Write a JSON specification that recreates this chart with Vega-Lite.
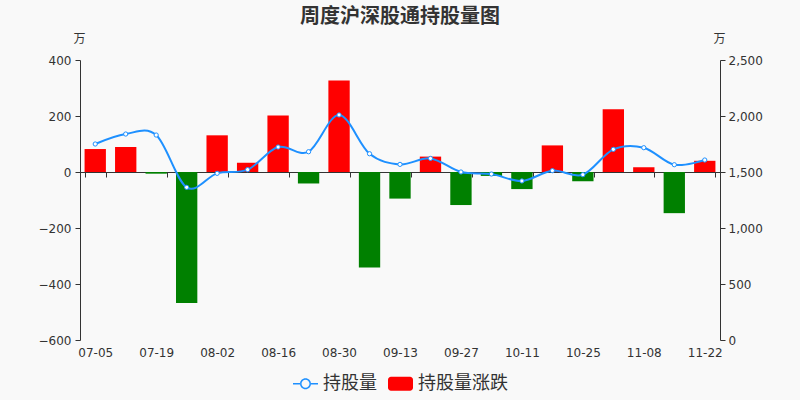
{
  "$schema": "https://vega.github.io/schema/vega-lite/v6.json",
  "width": 640,
  "height": 280,
  "autosize": {"type": "none"},
  "padding": {"left": 80, "top": 60, "right": 80, "bottom": 60},
  "background": "#f9f9f9",
  "title": {"text": "周度沪深股通持股量图", "fontSize": 20, "fontWeight": "bold", "color": "#333333", "font": "Noto Sans CJK SC", "anchor": "middle", "frame": "group", "offset": 5},
  "config": {
    "view": {"stroke": null},
    "font": "DejaVu Sans",
    "axis": {"labelFontSize": 12, "labelColor": "#333333", "domainColor": "#333333", "tickColor": "#333333", "tickSize": 5, "grid": false, "labelFont": "DejaVu Sans"}
  },
  "data": {
    "values": [
      {"date": "07-05", "chg": 82, "hold": 1750, "dir": "持股量涨跌"},
      {"date": "07-12", "chg": 89, "hold": 1839, "dir": "持股量涨跌"},
      {"date": "07-19", "chg": -6, "hold": 1830, "dir": "跌"},
      {"date": "07-26", "chg": -468, "hold": 1363, "dir": "跌"},
      {"date": "08-02", "chg": 131, "hold": 1488, "dir": "持股量涨跌"},
      {"date": "08-09", "chg": 33, "hold": 1521, "dir": "持股量涨跌"},
      {"date": "08-16", "chg": 202, "hold": 1723, "dir": "持股量涨跌"},
      {"date": "08-23", "chg": -41, "hold": 1681, "dir": "跌"},
      {"date": "08-30", "chg": 327, "hold": 2009, "dir": "持股量涨跌"},
      {"date": "09-06", "chg": -341, "hold": 1663, "dir": "跌"},
      {"date": "09-13", "chg": -95, "hold": 1568, "dir": "跌"},
      {"date": "09-20", "chg": 55, "hold": 1621, "dir": "持股量涨跌"},
      {"date": "09-27", "chg": -118, "hold": 1500, "dir": "跌"},
      {"date": "10-04", "chg": -14, "hold": 1482, "dir": "跌"},
      {"date": "10-11", "chg": -61, "hold": 1420, "dir": "跌"},
      {"date": "10-18", "chg": 95, "hold": 1512, "dir": "持股量涨跌"},
      {"date": "10-25", "chg": -33, "hold": 1476, "dir": "跌"},
      {"date": "11-01", "chg": 224, "hold": 1702, "dir": "持股量涨跌"},
      {"date": "11-08", "chg": 17, "hold": 1717, "dir": "持股量涨跌"},
      {"date": "11-15", "chg": -147, "hold": 1565, "dir": "跌"},
      {"date": "11-22", "chg": 40, "hold": 1607, "dir": "持股量涨跌"}
    ]
  },
  "encoding": {
    "x": {
      "field": "date", "type": "ordinal", "sort": null,
      "scale": {"paddingInner": 0.3, "paddingOuter": 0.15},
      "axis": {
        "title": null, "labelAngle": 0, "offset": -168, "labelPadding": 170,
        "tickBand": "extent",
        "values": ["07-05", "07-19", "08-02", "08-16", "08-30", "09-13", "09-27", "10-11", "10-25", "11-08", "11-22"]
      }
    }
  },
  "layer": [
    {
      "mark": {"type": "bar"},
      "encoding": {
        "y": {
          "field": "chg", "type": "quantitative",
          "scale": {"domain": [-600, 400], "nice": false, "zero": false},
          "axis": {
            "values": [-600, -400, -200, 0, 200, 400], "labelPadding": 4,
            "title": "万", "titleAngle": 0, "titleX": -1, "titleY": -22, "titleAlign": "center", "titleBaseline": "middle",
            "titleFontSize": 12, "titleFontWeight": "normal", "titleColor": "#333333", "titleFont": "Noto Sans CJK SC"
          }
        },
        "color": {
          "field": "dir", "type": "nominal",
          "scale": {"domain": ["持股量", "持股量涨跌", "跌"], "range": ["#1e90ff", "#ff0000", "#008000"]},
          "legend": {
            "orient": "none", "legendX": 213, "legendY": 311, "direction": "horizontal",
            "values": ["持股量", "持股量涨跌"], "title": null,
            "labelFontSize": 18, "labelColor": "#333333", "labelFont": "Noto Sans CJK SC",
            "symbolSize": 625, "labelOffset": 5, "columnPadding": 11,
            "encode": {
              "symbols": {
                "update": {
                  "shape": {"signal": "datum.value === '持股量' ? 'M-1,-0.06H-0.43V0.06H-1Z M0.43,-0.06H1V0.06H0.43Z M0.44,0A0.44,0.44,0,1,0,-0.44,0A0.44,0.44,0,1,0,0.44,0Z M0.32,0A0.32,0.32,0,1,1,-0.32,0A0.32,0.32,0,1,1,0.32,0Z' : 'M-0.76,-0.56H0.76A0.24,0.24,0,0,1,1,-0.32V0.32A0.24,0.24,0,0,1,0.76,0.56H-0.76A0.24,0.24,0,0,1,-1,0.32V-0.32A0.24,0.24,0,0,1,-0.76,-0.56Z'"},
                  "fill": {"signal": "datum.value === '持股量' ? '#1e90ff' : '#ff0000'"},
                  "stroke": {"value": "transparent"},
                  "strokeWidth": {"value": 0},
                  "opacity": {"value": 1},
                  "fillOpacity": {"value": 1}
                }
              }
            }
          }
        }
      }
    },
    {
      "layer": [
        {
          "mark": {"type": "line", "interpolate": "cardinal", "strokeWidth": 2},
          "encoding": {
            "y": {
              "field": "hold", "type": "quantitative",
              "scale": {"domain": [0, 2500], "nice": false},
              "axis": {
                "orient": "right", "values": [0, 500, 1000, 1500, 2000, 2500], "format": ",.0f", "labelPadding": 3,
                "title": "万", "titleAngle": 0, "titleX": -1, "titleY": -22, "titleAlign": "center", "titleBaseline": "middle",
                "titleFontSize": 12, "titleFontWeight": "normal", "titleColor": "#333333", "titleFont": "Noto Sans CJK SC"
              }
            },
            "color": {"datum": "持股量"}
          }
        },
        {
          "mark": {"type": "point", "filled": true, "fill": "#ffffff", "stroke": "#1e90ff", "strokeWidth": 1, "size": 18, "opacity": 1},
          "encoding": {
            "y": {"field": "hold", "type": "quantitative"}
          }
        }
      ]
    }
  ],
  "resolve": {"scale": {"y": "independent"}}
}
